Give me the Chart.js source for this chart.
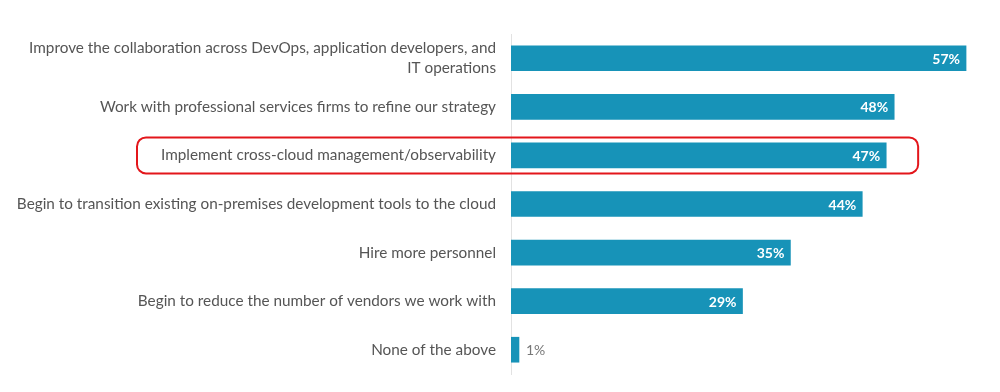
<!DOCTYPE html>
<html>
<head>
<meta charset="utf-8">
<script src="https://cdn.jsdelivr.net/npm/chart.js@4"></script>
<style>
  body { margin: 0; background: #fff; }
  #wrap { width: 1000px; height: 392px; }
</style>
</head>
<body>
<div id="wrap"><canvas id="chart"></canvas></div>
<script>
const categories = [
  ['Improve the collaboration across DevOps, application developers, and', 'IT operations'],
  'Work with professional services firms to refine our strategy',
  'Implement cross-cloud management/observability',
  'Begin to transition existing on-premises development tools to the cloud',
  'Hire more personnel',
  'Begin to reduce the number of vendors we work with',
  'None of the above'
];
const values = [57, 48, 47, 44, 35, 29, 1];
const highlightIndex = 2;

const barColor = '#1793b8';

// value labels + red highlight box
const labelPlugin = {
  id: 'labels',
  afterDatasetsDraw(chart) {
    const ctx = chart.ctx;
    const meta = chart.getDatasetMeta(0);
    ctx.save();
    ctx.textBaseline = 'middle';
    meta.data.forEach((bar, i) => {
      const txt = values[i] + '%';
      if (values[i] >= 5) {
        ctx.font = 'bold 14px Lato';
        ctx.fillStyle = '#fff';
        ctx.textAlign = 'right';
        ctx.fillText(txt, bar.x - 6, bar.y + 1);
      } else {
        ctx.font = '14px Lato';
        ctx.fillStyle = '#777';
        ctx.textAlign = 'left';
        ctx.fillText(txt, bar.x + 7, bar.y + 1);
      }
    });

    // highlight box around one row
    const y = chart.scales.y.getPixelForValue(highlightIndex);
    const x0 = 137;
    const x1 = chart.scales.x.getPixelForValue(51);
    ctx.strokeStyle = '#e3161b';
    ctx.lineWidth = 2;
    ctx.beginPath();
    ctx.roundRect(x0, y - 18, x1 - x0, 36, 9);
    ctx.stroke();
    ctx.restore();
  }
};

new Chart(document.getElementById('chart'), {
  type: 'bar',
  data: {
    labels: categories,
    datasets: [{
      data: values,
      backgroundColor: barColor,
      barThickness: 25
    }]
  },
  options: {
    indexAxis: 'y',
    responsive: true,
    maintainAspectRatio: false,
    animation: false,
    layout: { padding: { top: 34, bottom: 18, right: 10, left: 0 } },
    plugins: {
      legend: { display: false },
      tooltip: { enabled: false }
    },
    scales: {
      x: {
        display: false,
        min: 0,
        max: 60
      },
      y: {
        grid: { display: false, drawTicks: false },
        border: { display: true, color: '#e2e2e2', width: 1 },
        ticks: {
          color: '#555',
          font: { family: 'Lato', size: 15.3, lineHeight: 1.3 },
          padding: 15
        },
        afterFit(scale) {
          scale.width = 511;
          scale.paddingTop = 0;
          scale.paddingBottom = 0;
        }
      }
    }
  },
  plugins: [labelPlugin]
});
</script>
</body>
</html>
